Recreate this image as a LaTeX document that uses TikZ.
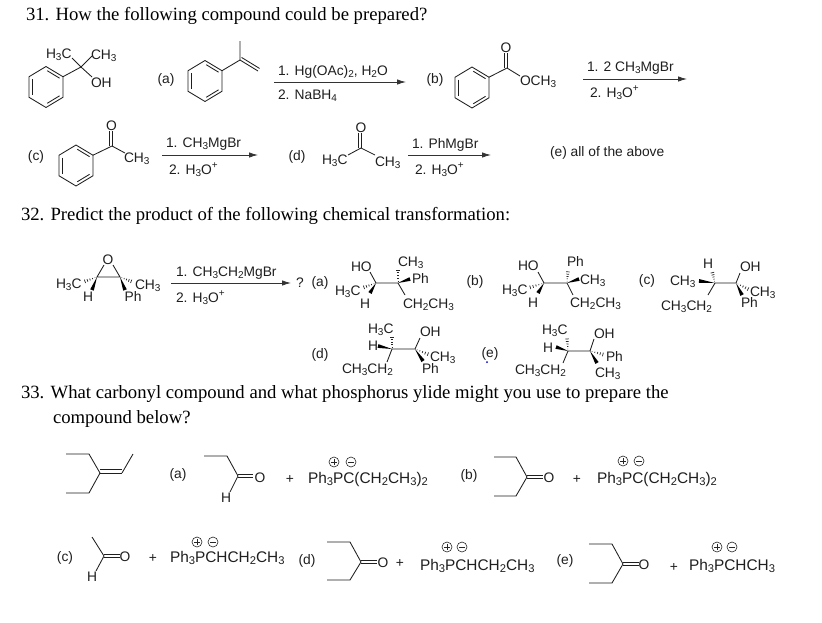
\documentclass[tikz,border=0pt]{standalone}
\usepackage{fontspec}
\setmainfont{Liberation Sans}
\newfontfamily\serf{Liberation Serif}
\usetikzlibrary{calc,arrows.meta}
\newcounter{nn}
\newcommand\su[1]{\raisebox{-0.28ex}{\fontsize{10}{10}\selectfont #1}}
\newcommand\suy[1]{\raisebox{-0.28ex}{\fontsize{11.2}{11}\selectfont #1}}
\newcommand\spp{\raisebox{0.75ex}{\fontsize{10}{10}\selectfont +}}
\tikzset{
  bond/.style={line width=0.85pt,draw=black!88},
  chemtext/.style={inner sep=0pt,outer sep=0pt,font=\fontsize{13.8}{14}\selectfont,text=black!88},
  ylidetext/.style={chemtext,font=\fontsize{15.4}{15}\selectfont},
  titletext/.style={inner sep=0pt,outer sep=0pt,anchor=base west,font=\serf\fontsize{18.7}{19}\selectfont,text=black},
  rxnarrow/.style={line width=0.8pt,draw=black!80,-{Latex[length=9pt,width=5.4pt]}},
  chargering/.style={line width=0.6pt,draw=black!85}
}
\newcommand\tw[3]{\stepcounter{nn}\node[chemtext,anchor=base west] (t\thenn) at (#1,#2+5) {#3};}
\newcommand\tc[3]{\stepcounter{nn}\node[chemtext,anchor=base] (t\thenn) at (#1,#2+5) {#3};}
\newcommand\ty[3]{\stepcounter{nn}\node[ylidetext,anchor=base west] (t\thenn) at (#1,#2+5) {#3};}
\newcommand\ttl[3]{\stepcounter{nn}\node[titletext] (t\thenn) at (#1,#2) {#3};}
\newcommand\bd[1]{\draw[bond] #1;}
\newcommand\dbl[5]{\draw[bond] (#1,#2) -- (#3,#4); \draw[bond] ($(#1,#2)!#5pt!90:(#3,#4)$) -- ($(#3,#4)!#5pt!-90:(#1,#2)$);}
\newcommand\wdg[4]{\fill[black] (#1,#2) -- ($(#3,#4)!1.9pt!90:(#1,#2)$) -- ($(#3,#4)!1.9pt!-90:(#1,#2)$) -- cycle;}
\newcommand\hsh[4]{\foreach \t/\w in {0.14/0.3,0.32/0.6,0.5/1.0,0.68/1.4,0.86/1.8}{
  \draw[line width=0.7pt,black!85] ($(#1,#2)!\t!(#3,#4)!\w pt!90:(#3,#4)$) -- ($(#1,#2)!\t!(#3,#4)!\w pt!-90:(#3,#4)$);}}
\newcommand\benz[2]{\begin{scope}[shift={(#1,#2)}]
  \draw[bond,line join=round] (0,-20.5) -- (17,-10.25) -- (17,10.25) -- (0,20.5) -- (-17,10.25) -- (-17,-10.25) -- cycle;
  \draw[bond] (1.2,-16.3) -- (13.6,-8.8);
  \draw[bond] (-13.8,-8) -- (-13.8,8);
  \draw[bond] (13.6,8.8) -- (1.2,16.3);
\end{scope}}
\newcommand\chg[3]{\draw[chargering] (#1,#2) circle (5); \draw[chargering] (#1-3,#2) -- (#1+3,#2); \draw[chargering] (#1,#2-3) -- (#1,#2+3);
  \draw[chargering] (#3,#2) circle (5); \draw[chargering] (#3-3,#2) -- (#3+3,#2);}
\newcommand\arr[4]{\coordinate (#1s) at (#2,#4); \coordinate (#1e) at (#3,#4); \draw[rxnarrow] (#1s) -- (#1e);}
\begin{document}
\begin{tikzpicture}[x=1pt,y=-1pt]
\useasboundingbox[fill=white] (0,0) rectangle (822,622);
%% Q31
\ttl{26}{20}{31. How the following compound could be prepared?}
\benz{46}{87}
\bd{(63,76.7) -- (81,67) -- (72,58)}
\bd{(81,67) -- (92,56)}
\bd{(81,67) -- (92,77)}
\tw{46}{53}{H\su{3}C}
\tw{91}{54}{CH\su{3}}
\tw{91}{82}{OH}
\tc{166}{78}{(a)}
\benz{205}{81}
\bd{(222,70.7) -- (240,60) -- (240,41)}
\dbl{240}{60}{258}{71}{3}
\arr{aa}{274}{406}{82}
\tw{278}{70}{1. Hg(OAc)\su{2}, H\su{2}O}
\tw{278}{94}{2. NaBH\su{4}}
\tc{435}{78}{(b)}
\benz{472}{87.5}
\bd{(489,77.2) -- (507,68) -- (520,76)}
\dbl{507}{68}{507}{53}{2.5}
\tc{506}{47.5}{O}
\tw{520}{80}{OCH\su{3}}
\arr{ab}{583}{687}{79}
\tw{587}{66}{1. 2 CH\su{3}MgBr}
\tw{590}{92}{2. H\su{3}O\spp}
\tc{36}{155}{(c)}
\benz{76}{165.5}
\bd{(93,155.2) -- (112,146) -- (125,153)}
\dbl{112}{146}{112}{131}{2.5}
\tc{111.5}{125}{O}
\tw{124}{157}{CH\su{3}}
\arr{ac}{162}{258}{155}
\tw{166}{142}{1. CH\su{3}MgBr}
\tw{169}{169}{2. H\su{3}O\spp}
\tc{297}{155}{(d)}
\tw{322}{159}{H\su{3}C}
\bd{(348,155) -- (361,148) -- (375,155)}
\dbl{361}{148}{361}{133}{2.5}
\tc{361}{127}{O}
\tw{375}{161}{CH\su{3}}
\arr{ad}{408}{491}{155}
\tw{412}{143}{1. PhMgBr}
\tw{415}{169}{2. H\su{3}O\spp}
\tw{550}{151}{(e) all of the above}
%% Q32
\ttl{21}{220}{32. Predict the product of the following chemical transformation:}
\tc{108}{259}{O}
\bd{(104,265) -- (97,277) -- (120,277) -- (113,265)}
\hsh{97}{277}{83}{282}
\wdg{97}{277}{92}{290}
\hsh{120}{277}{133}{282}
\wdg{120}{277}{125}{290}
\tw{56}{283}{H\su{3}C}
\tc{88}{296}{H}
\tw{135}{284}{CH\su{3}}
\tc{133}{296}{Ph}
\arr{ae}{171}{291}{283}
\tw{176}{271}{1. CH\su{3}CH\su{2}MgBr}
\tw{176}{297}{2. H\su{3}O\spp}
\tc{300}{282}{?}
\tc{320}{281}{(a)}
\tw{351}{266}{HO}
\tw{335}{290}{H\su{3}C}
\tc{365}{303}{H}
\tw{398}{261}{CH\su{3}}
\tw{412}{278}{Ph}
\tw{403}{303}{CH\su{2}CH\su{3}}
\bd{(370,272) -- (376,283) -- (398,283) -- (405,295)}
\hsh{376}{283}{362}{288}
\wdg{376}{283}{370}{293}
\hsh{398}{283}{398}{268}
\wdg{398}{283}{410}{279}
\tc{475}{280}{(b)}
\tw{518}{265}{HO}
\tw{502}{289}{H\su{3}C}
\tc{533}{302}{H}
\tw{567}{261}{Ph}
\tw{580}{279}{CH\su{3}}
\tw{570}{302}{CH\su{2}CH\su{3}}
\bd{(538,272) -- (544,283) -- (567,283) -- (573,295)}
\hsh{544}{283}{528}{288}
\wdg{544}{283}{538}{293}
\hsh{567}{283}{568}{270}
\wdg{567}{283}{579}{279}
\tc{647}{279}{(c)}
\tc{708}{263}{H}
\tw{670}{280}{CH\su{3}}
\tw{661}{305}{CH\su{3}CH\su{2}}
\tw{740}{266}{OH}
\tw{750}{291}{CH\su{3}}
\tw{741}{302}{Ph}
\bd{(708,295) -- (715,283) -- (736,283) -- (740,273)}
\hsh{715}{283}{712}{271}
\wdg{715}{283}{699}{281}
\hsh{736}{283}{750}{290}
\wdg{736}{283}{742}{295}
\tc{320}{353}{(d)}
\tw{368}{328}{H\su{3}C}
\tc{373}{345}{H}
\tw{342}{368}{CH\su{3}CH\su{2}}
\tw{420}{331}{OH}
\tw{430}{356}{CH\su{3}}
\tw{422}{368}{Ph}
\bd{(387,362) -- (392,349) -- (415,349) -- (420,338)}
\hsh{392}{349}{392}{335}
\wdg{392}{349}{378}{346}
\hsh{415}{349}{430}{355}
\wdg{415}{349}{423}{361}
\tc{490}{352}{(e)}
\fill[blue!80!black] (487,362) circle (1);
\tw{542}{329}{H\su{3}C}
\tc{548}{347}{H}
\tw{515}{369}{CH\su{3}CH\su{2}}
\tw{594}{333}{OH}
\tw{606}{356}{Ph}
\tw{595}{372}{CH\su{3}}
\bd{(563,363) -- (568,351) -- (590,351) -- (594,339)}
\hsh{568}{351}{567}{337}
\wdg{568}{351}{556}{347}
\hsh{590}{351}{605}{355}
\wdg{590}{351}{597}{363}
%% Q33
\ttl{21}{398}{33. What carbonyl compound and what phosphorus ylide might you use to prepare the}
\ttl{53}{423}{compound below?}
\bd{(66,454) -- (89,454) -- (100,473) -- (89,493) -- (66,493)}
\dbl{100}{473}{122}{473}{3.5}
\bd{(122,473) -- (133,454)}
\tc{178}{473}{(a)}
\bd{(204,456) -- (227,456) -- (238,476) -- (230,492)}
\dbl{238}{477}{253}{477}{2.2}
\tc{260}{477}{O}
\tc{226}{497}{H}
\tc{290}{478}{+}
\ty{308}{478}{Ph\suy{3}PC(CH\suy{2}CH\suy{3})\suy{2}}
\chg{334}{462}{351}
\tc{469}{474}{(b)}
\bd{(494,457) -- (516,457) -- (527,477) -- (516,496) -- (494,496)}
\dbl{527}{478}{543}{478}{2.2}
\tc{549}{477}{O}
\tc{577}{478}{+}
\ty{597}{478}{Ph\suy{3}PC(CH\suy{2}CH\suy{3})\suy{2}}
\chg{623}{461}{639}
\tc{65}{556}{(c)}
\bd{(92,537) -- (104,556) -- (96,571)}
\dbl{104}{557}{120}{557}{2.2}
\tc{125}{556}{O}
\tc{92}{576}{H}
\tc{153}{557}{+}
\ty{170}{557}{Ph\suy{3}PCHCH\suy{2}CH\suy{3}}
\chg{197}{542}{213}
\tc{307}{559}{(d)}
\bd{(327,542) -- (350,542) -- (361,562) -- (350,580) -- (327,580)}
\dbl{361}{563}{377}{563}{2.2}
\tc{383}{562}{O}
\tc{400}{562}{+}
\ty{420}{565}{Ph\suy{3}PCHCH\suy{2}CH\suy{3}}
\chg{447}{547}{462}
\tc{565}{559}{(e)}
\bd{(589,544) -- (612,544) -- (623,564) -- (612,583) -- (589,583)}
\dbl{623}{565}{639}{565}{2.2}
\tc{644}{564}{O}
\tc{674}{566}{+}
\ty{689}{565}{Ph\suy{3}PCHCH\suy{3}}
\chg{717}{547}{732}
\end{tikzpicture}
\end{document}
